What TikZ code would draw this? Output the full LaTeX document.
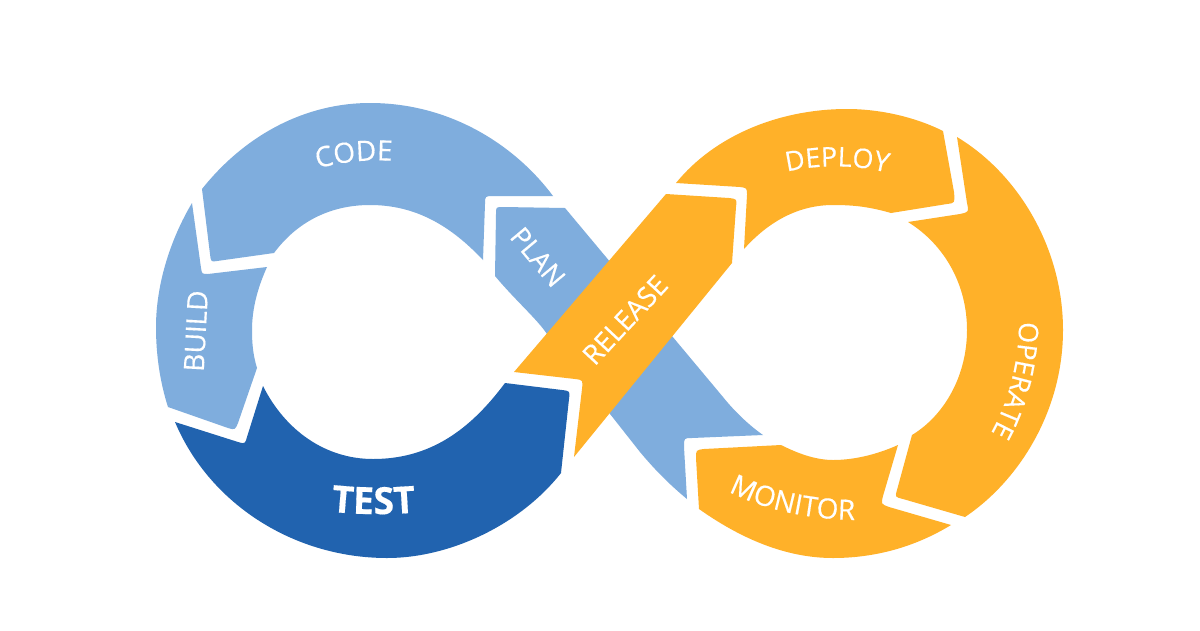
\documentclass[tikz,border=0pt]{standalone}
\usepackage{fontspec}
\setmainfont{Open Sans}[FakeBold=0.35]
\usetikzlibrary{decorations.text}
\definecolor{lightblue}{HTML}{7FADDD}
\definecolor{darkblue}{HTML}{2163AF}
\definecolor{amber}{HTML}{FFB129}
\tikzset{
  seg/.style={line join=round},
  lbl/.style={text=white,inner sep=0pt,font=\fontsize{#1}{#1}\selectfont},
  lbl/.default=28,
}
\newcommand{\curvetext}[2]{\path[decorate,decoration={text along path,text align=center,text={|\fontsize{#1}{#1}\selectfont\color{white}|#2}}]}
\newcommand{\curvebold}[2]{\path[decorate,decoration={text along path,text align=center,text={|\fontsize{#1}{#1}\selectfont\bfseries\color{white}|#2}}]}
\begin{document}
\begin{tikzpicture}[x=1pt,y=-1pt]
\useasboundingbox (0,0) rectangle (1200,630);
\fill[white] (0,0) rectangle (1200,630);
% CODE
\fill[lightblue,seg] (202,189) .. controls (245,135) and (305,103) .. (370,103)
  .. controls (450,103) and (515,145) .. (553,196) -- (494,196)
  .. controls (485,196) .. (485,204) -- (483,260)
  .. controls (450,225) and (415,205) .. (370,205)
  .. controls (330,205) and (297,222) .. (274,253) -- (217,261)
  .. controls (211,262) .. (210,254) -- cycle;
% BUILD
\fill[lightblue,seg] (192,203) .. controls (170,240) and (156,285) .. (156,327)
  .. controls (156,355) and (160,382) .. (168,407) -- (228,428)
  .. controls (235,430) .. (238,423) -- (257,368)
  .. controls (253,355) and (252,343) .. (252,330)
  .. controls (252,308) and (258,287) .. (267,267) -- (208,274)
  .. controls (202,274) .. (201,268) -- cycle;
% TEST
\fill[darkblue,seg] (175,422) -- (238,442) .. controls (245,444) .. (247,437) -- (263,386)
  .. controls (285,430) and (325,459) .. (373,459)
  .. controls (430,459) and (470,430) .. (505,383) -- (562,390)
  .. controls (570,391) .. (569,399) -- (561,473)
  .. controls (520,525) and (450,558) .. (387,558)
  .. controls (295,558) and (210,505) .. cycle;
% PLAN ribbon (under RELEASE)
\fill[lightblue,seg] (503,207) -- (565,208) -- (723,397)
  .. controls (735,412) and (750,426) .. (763,435) -- (692,438)
  .. controls (684,438) .. (684,447) -- (687,499)
  .. controls (670,485) and (655,470) .. (640,452) -- (547,334)
  .. controls (537,319) and (515,300) .. (495,276) -- (496,214)
  .. controls (496,207) .. cycle;
% RELEASE
\fill[amber,seg] (666,194) -- (729,198) .. controls (737,199) .. (736,207) -- (732,263)
  -- (574,457) -- (582,389) .. controls (583,380) .. (575,379) -- (514,372) -- cycle;
% DEPLOY
\fill[amber,seg] (676,183) .. controls (715,135) and (780,109) .. (847,109)
  .. controls (880,109) and (915,117) .. (943,131) -- (954,192)
  .. controls (955,203) .. (947,204) -- (891,213)
  .. controls (870,207) and (855,205) .. (833,205)
  .. controls (800,205) and (770,220) .. (744,249) -- (747,195)
  .. controls (747,188) .. (740,187) -- cycle;
% OPERATE
\fill[amber,seg] (957,137) .. controls (1020,175) and (1063,250) .. (1063,330)
  .. controls (1063,410) and (1020,480) .. (965,517) -- (903,499)
  .. controls (895,497) .. (897,490) -- (912,435)
  .. controls (945,415) and (967,375) .. (967,330)
  .. controls (967,285) and (945,245) .. (908,222) -- (960,214)
  .. controls (969,212) .. (967,203) -- cycle;
% MONITOR
\fill[amber,seg] (704,449) -- (781,445) .. controls (797,453) and (815,460) .. (833,460)
  .. controls (855,460) and (878,454) .. (898,445) -- (883,496)
  .. controls (881,504) .. (889,507) -- (951,525)
  .. controls (915,547) and (875,558) .. (833,558)
  .. controls (785,558) and (740,538) .. (699,509) -- (696,458)
  .. controls (696,450) .. cycle;
% labels
\node[lbl=27,rotate=-50] (plan) at (538,257) {PLAN};
\node[lbl=27.5,rotate=47] (release) at (625,320) {RELEASE};
\node[lbl=28,rotate=87] (build) at (196,331) {BUILD};
\coordinate (codeA) at (316,169); \coordinate (codeB) at (394,161);
\curvetext{28}{CODE} (codeA) .. controls (340,162) and (368,159) .. (codeB);
\coordinate (depA) at (782,173); \coordinate (depB) at (892,174);
\curvetext{27}{DEPLOY} (depA) .. controls (815,164) and (858,164) .. (depB);
\coordinate (opA) at (1019,316); \coordinate (opB) at (988,438);
\curvetext{27}{OPERATE} (opA) .. controls (1020,360) and (1008,405) .. (opB);
\coordinate (monA) at (724,489); \coordinate (monB) at (860,520);
\curvetext{28}{MONITOR} (monA) .. controls (762,510) and (810,520) .. (monB);
\coordinate (testA) at (326,511); \coordinate (testB) at (421,512);
\curvebold{37.5}{TEST} (testA) .. controls (355,515) and (392,515) .. (testB);
\end{tikzpicture}
\end{document}
